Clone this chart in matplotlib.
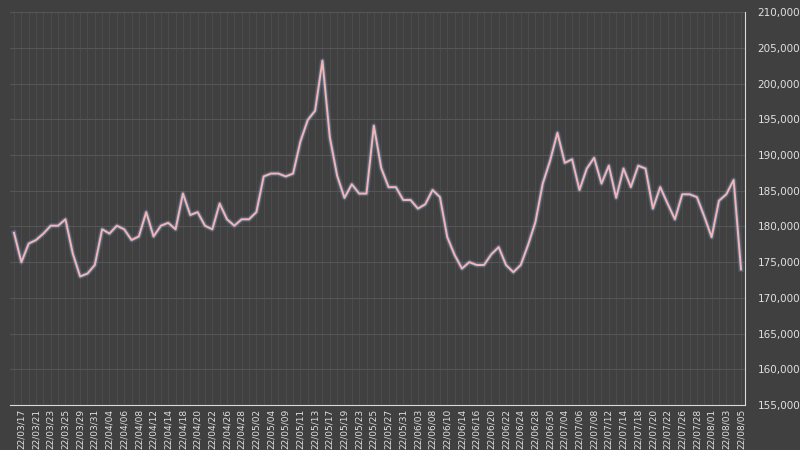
import matplotlib
matplotlib.use("Agg")
import matplotlib.pyplot as plt
import matplotlib.patheffects as pe
from matplotlib.ticker import FuncFormatter, MultipleLocator

values = [179.1, 175.0, 177.6, 178.1, 179.0, 180.1, 180.1, 181.0, 176.2, 173.0,
          173.4, 174.6, 179.6, 179.0, 180.1, 179.6, 178.1, 178.6, 182.0, 178.6,
          180.1, 180.5, 179.6, 184.6, 181.6, 182.0, 180.1, 179.6, 183.2, 181.0,
          180.1, 181.0, 181.0, 182.0, 187.0, 187.4, 187.4, 187.0, 187.4, 191.9,
          194.9, 196.2, 203.2, 192.5, 187.1, 184.0, 185.9, 184.6, 184.6, 194.1,
          188.2, 185.5, 185.5,
          183.7, 183.7, 182.5, 183.1, 185.1, 184.1, 178.5, 176.0, 174.1, 175.0,
          174.6, 174.6, 176.1, 177.1, 174.6, 173.6, 174.6, 177.4, 180.6, 186.0,
          189.2, 193.1, 188.9, 189.4, 185.1, 188.1, 189.6, 186.0, 188.5, 184.0,
          188.1, 185.5, 188.5, 188.1, 182.5, 185.5, 183.2, 181.0, 184.5, 184.5,
          184.1, 181.4, 178.5, 183.6, 184.5, 186.5, 174.0]
values = [v * 1000 for v in values]

tick_labels = ["22/03/17", "22/03/21", "22/03/23", "22/03/25", "22/03/29", "22/03/31",
               "22/04/04", "22/04/06", "22/04/08", "22/04/12", "22/04/14", "22/04/18",
               "22/04/20", "22/04/22", "22/04/26", "22/04/28", "22/05/02", "22/05/04",
               "22/05/09", "22/05/11", "22/05/13", "22/05/17", "22/05/19", "22/05/23",
               "22/05/25", "22/05/27", "22/05/31", "22/06/03", "22/06/08", "22/06/10",
               "22/06/14", "22/06/16", "22/06/20", "22/06/22", "22/06/24", "22/06/28",
               "22/06/30", "22/07/04", "22/07/06", "22/07/08", "22/07/12", "22/07/14",
               "22/07/18", "22/07/20", "22/07/22", "22/07/26", "22/07/28", "22/08/01",
               "22/08/03", "22/08/05"]

bg = "#404040"
fig = plt.figure(figsize=(8, 4.5), dpi=100, facecolor=bg)
ax = fig.add_axes([0.0125, 0.1, 0.9188, 0.873], facecolor=bg)

x = list(range(len(values)))
ax.plot(x, values, color="#f4b4b4", lw=1.4, zorder=3,
        path_effects=[pe.Stroke(linewidth=4, foreground="#6f8fb5", alpha=0.25),
                      pe.Stroke(linewidth=2.6, foreground="#7fa0c8", alpha=0.35),
                      pe.Normal()])

ax.set_xlim(-0.55, len(values) - 0.45)
ax.set_ylim(155000, 210000)
ax.set_xticks(range(len(values)), minor=True)
ax.set_xticks(range(1, len(values), 2))
ax.set_xticklabels(tick_labels, rotation=90, fontsize=6.5, color="#e0e0e0")
ax.yaxis.set_major_locator(MultipleLocator(5000))
ax.yaxis.set_major_formatter(FuncFormatter(lambda v, p: f"{int(v):,}"))
ax.yaxis.tick_right()
ax.tick_params(axis="y", labelsize=7.5, colors="#e0e0e0", length=0, pad=9)
ax.tick_params(axis="x", which="both", length=0, pad=3)
ax.grid(True, which="both", axis="x", color="#4b4b4b", lw=0.8)
ax.grid(True, which="major", axis="y", color="#555555", lw=0.8)
for s in ["top", "left"]:
    ax.spines[s].set_visible(False)
ax.spines["bottom"].set_color("#d9d9d9")
ax.spines["right"].set_color("#d9d9d9")
ax.set_axisbelow(True)

fig.savefig("out.png", dpi=100, facecolor=bg)
